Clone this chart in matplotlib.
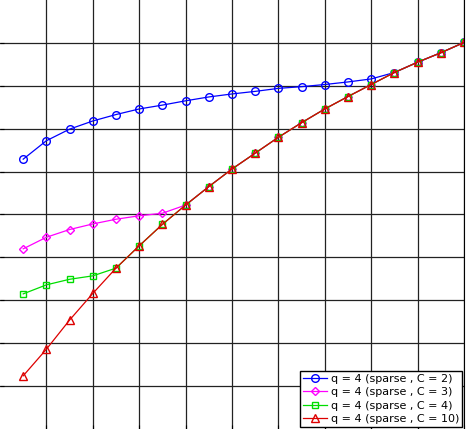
import numpy as np
import matplotlib.pyplot as plt

x = np.arange(1, 21)
red = [1.24, 1.86, 2.54, 3.16, 3.75, 4.27, 4.77, 5.22, 5.65, 6.06,
       6.43, 6.80, 7.14, 7.46, 7.75, 8.03, 8.31, 8.55, 8.77, 9.01]
blue = [6.29, 6.72, 6.99, 7.18, 7.33, 7.46, 7.55, 7.65, 7.74, 7.81,
        7.87, 7.94, 7.98, 8.03, 8.09, 8.16] + red[16:]
magenta = [4.20, 4.47, 4.65, 4.78, 4.89, 4.97, 5.03] + red[7:]
green = [3.15, 3.36, 3.49, 3.57] + red[4:]

labels = ['q = 4 (sparse , C = 2)', 'q = 4 (sparse , C = 3)',
          'q = 4 (sparse , C = 4)', 'q = 4 (sparse , C = 10)']

fig = plt.figure(figsize=(4.74, 4.29), dpi=100)
ax = fig.add_axes([0, 0, 464/474, 1])
ms = 5.5
ax.plot(x, blue, '-o', color='#0000ff', mfc='none', ms=ms, lw=0.9, label=labels[0])
ax.plot(x, magenta, '-D', color='#ff00ff', mfc='none', ms=ms-1, lw=0.9, label=labels[1])
ax.plot(x, green, '-s', color='#00dd00', mfc='none', ms=ms-0.5, lw=0.9, label=labels[2])
ax.plot(x, red, '-^', color='#dd0000', mfc='none', ms=ms, lw=0.9, label=labels[3])

ax.set_xlim(0, 20)
ax.set_ylim(0, 10)
ax.set_xticks(np.arange(2, 21, 2))
ax.set_yticks(np.arange(1, 10))
ax.tick_params(labelleft=False, labelbottom=False, direction='in', length=3)
ax.grid(True, color='#222222', lw=0.9)
for s in ['top', 'bottom', 'left']:
    ax.spines[s].set_visible(False)
ax.spines['right'].set_color('black')

leg = ax.legend(loc='lower right', fontsize=8, fancybox=False, framealpha=1,
                edgecolor='black', borderpad=0.3, labelspacing=0.3,
                handlelength=2.2, handletextpad=0.3, borderaxespad=0.15)
leg.get_frame().set_linewidth(1.0)

fig.savefig('out.png', dpi=100)
